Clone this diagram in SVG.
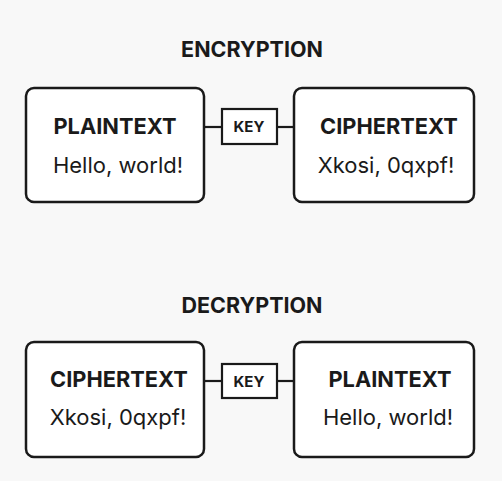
<svg xmlns="http://www.w3.org/2000/svg" width="502" height="481" viewBox="0 0 502 481">
<style>
.box{fill:#fff;stroke:#1a1a1a;stroke-width:2.5}
.key{fill:#fff;stroke:#1a1a1a;stroke-width:2.2}
.ln{stroke:#1a1a1a;stroke-width:2.2}
.title{font-family:Inter,"Liberation Sans",sans-serif;font-weight:700;font-size:21.5px;fill:#1a1a1a;text-anchor:middle}
.h{font-family:Inter,"Liberation Sans",sans-serif;font-weight:700;font-size:21.8px;fill:#1a1a1a;text-anchor:middle}
.t{font-family:Inter,"Liberation Sans",sans-serif;font-weight:400;font-size:22px;fill:#1a1a1a;text-anchor:middle}
.k{font-family:Inter,"Liberation Sans",sans-serif;font-weight:700;font-size:15px;fill:#1a1a1a;text-anchor:middle}
</style>
<rect width="502" height="481" fill="#f8f8f8"/>
<text class="title" x="252" y="57">ENCRYPTION</text>
<text class="title" x="252" y="313">DECRYPTION</text>
<g id="connectors">
<line class="ln" x1="204" y1="127" x2="222" y2="127"/>
<line class="ln" x1="277" y1="127" x2="294" y2="127"/>
<line class="ln" x1="204" y1="381" x2="222" y2="381"/>
<line class="ln" x1="277" y1="381" x2="294" y2="381"/>
</g>
<g id="enc-plaintext">
<rect class="box" x="26" y="88" width="178" height="114" rx="8"/>
<text class="h" x="115" y="134">PLAINTEXT</text>
<text class="t" x="118" y="173">Hello, world!</text>
</g>
<g id="enc-key">
<rect class="key" x="222" y="109" width="55" height="35"/>
<text class="k" x="249" y="132">KEY</text>
</g>
<g id="enc-ciphertext">
<rect class="box" x="294" y="88" width="180" height="114" rx="8"/>
<text class="h" x="389" y="134">CIPHERTEXT</text>
<text class="t" x="386" y="173">Xkosi, 0qxpf!</text>
</g>
<g id="dec-ciphertext">
<rect class="box" x="26" y="342" width="178" height="115" rx="8"/>
<text class="h" x="119" y="387">CIPHERTEXT</text>
<text class="t" x="118" y="425">Xkosi, 0qxpf!</text>
</g>
<g id="dec-key">
<rect class="key" x="222" y="364" width="55" height="34"/>
<text class="k" x="249" y="387">KEY</text>
</g>
<g id="dec-plaintext">
<rect class="box" x="294" y="342" width="180" height="115" rx="8"/>
<text class="h" x="390" y="387">PLAINTEXT</text>
<text class="t" x="388" y="425">Hello, world!</text>
</g>
</svg>
